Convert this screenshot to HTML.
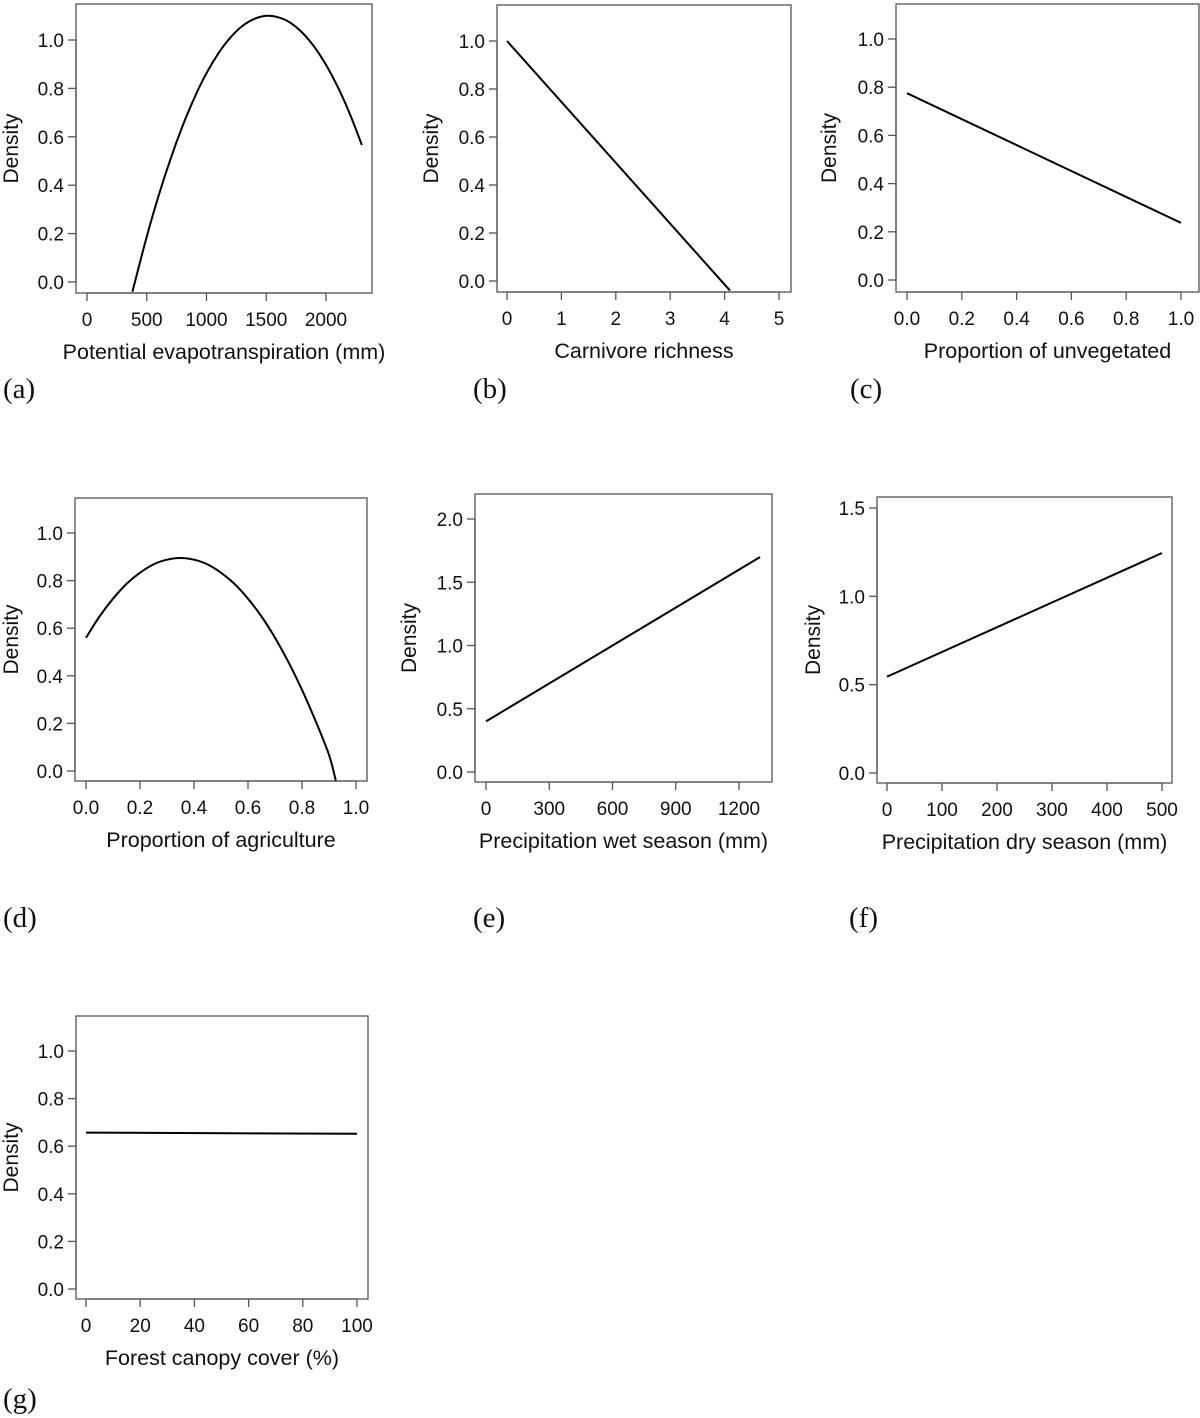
<!DOCTYPE html>
<html><head><meta charset="utf-8"><style>
html,body{margin:0;padding:0;background:#fff;}
svg{display:block;}
text{font-family:"Liberation Sans",sans-serif;fill:#111;}
.lt{font-family:"Liberation Serif",serif;font-size:29px;}
</style></head><body>
<svg id="fig" width="1200" height="1418" viewBox="0 0 1200 1418" xmlns="http://www.w3.org/2000/svg"></svg>
<script>
// ---- data ----
const aX = [380,500,600,700,800,900,1000,1100,1200,1300,1400,1500,1600,1700,1800,1900,2000,2100,2200,2300];
const aY = [-0.04,0.188,0.358,0.510,0.645,0.763,0.863,0.945,1.010,1.058,1.087,1.100,1.094,1.072,1.031,0.973,0.898,0.805,0.694,0.566];
const bX = [0,4.1];
const bY = [1.0,-0.04];
const cX = [0,1];
const cY = [0.775,0.237];
const dX = [0,0.05,0.1,0.15,0.2,0.25,0.3,0.35,0.4,0.45,0.5,0.55,0.6,0.65,0.7,0.75,0.8,0.85,0.9,0.925];
const dY = [0.56,0.649,0.724,0.786,0.833,0.868,0.888,0.895,0.888,0.868,0.833,0.786,0.724,0.649,0.56,0.457,0.341,0.211,0.068,-0.04];
const eX = [0,1300];
const eY = [0.40,1.70];
const fX = [0,500];
const fY = [0.545,1.245];
const gX = [0,100];
const gY = [0.657,0.652];

const aXTicks = [0,500,1000,1500,2000];
const bXTicks = [0,1,2,3,4,5];
const cXTicks = [0,0.2,0.4,0.6,0.8,1.0];
const dXTicks = [0,0.2,0.4,0.6,0.8,1.0];
const eXTicks = [0,300,600,900,1200];
const fXTicks = [0,100,200,300,400,500];
const gXTicks = [0,20,40,60,80,100];
const yTicks01 = [0,0.2,0.4,0.6,0.8,1.0];
const eYTicks = [0,0.5,1.0,1.5,2.0];
const fYTicks = [0,0.5,1.0,1.5];

const NS = "http://www.w3.org/2000/svg";
const svg = document.getElementById('fig');
function mk(tag, attrs, parent){
  const e = document.createElementNS(NS, tag);
  for (const k in attrs) e.setAttribute(k, attrs[k]);
  (parent||svg).appendChild(e);
  return e;
}
function fmt1(v){return v.toFixed(1);}
function smoothPath(p){
  if (p.length < 3) return 'M' + p.map(q => q[0].toFixed(1)+','+q[1].toFixed(1)).join(' L');
  let d = 'M' + p[0][0].toFixed(1) + ',' + p[0][1].toFixed(1);
  for (let i = 0; i < p.length - 1; i++){
    const p0 = p[i-1] || p[i], p1 = p[i], p2 = p[i+1], p3 = p[i+2] || p2;
    const c1x = p1[0] + (p2[0]-p0[0])/6, c1y = p1[1] + (p2[1]-p0[1])/6;
    const c2x = p2[0] - (p3[0]-p1[0])/6, c2y = p2[1] - (p3[1]-p1[1])/6;
    d += ` C${c1x.toFixed(1)},${c1y.toFixed(1)} ${c2x.toFixed(1)},${c2y.toFixed(1)} ${p2[0].toFixed(1)},${p2[1].toFixed(1)}`;
  }
  return d;
}

function panel(cfg){
  const g = mk('g', {});
  
  
  const sx = v => cfg.px0 + (v - cfg.x0) * (cfg.px1 - cfg.px0) / (cfg.x1 - cfg.x0);
  const sy = v => cfg.py0 + (v - cfg.y0) * (cfg.py1 - cfg.py0) / (cfg.y1 - cfg.y0);
  const box = mk('rect', {x:cfg.L, y:cfg.T, width:cfg.R-cfg.L, height:cfg.B-cfg.T, fill:'none', stroke:'#555', 'stroke-width':1.3}, g);
  
  
  const xa = mk('g', {}, g);
  
  
  mk('line', {x1:sx(cfg.xt[0]), x2:sx(cfg.xt[cfg.xt.length-1]), y1:cfg.B, y2:cfg.B, stroke:'#555','stroke-width':1.3}, xa);
  cfg.xt.forEach(v => {
    mk('line', {x1:sx(v), x2:sx(v), y1:cfg.B, y2:cfg.B+8, stroke:'#555','stroke-width':1.3}, xa);
    const t = mk('text', {x:sx(v), y:cfg.B+33, 'text-anchor':'middle', 'font-size':19}, xa);
    t.textContent = cfg.xf ? cfg.xf(v) : String(v);
    
    
  });
  const ya = mk('g', {}, g);
  
  
  mk('line', {x1:cfg.L, x2:cfg.L, y1:sy(cfg.yt[0]), y2:sy(cfg.yt[cfg.yt.length-1]), stroke:'#555','stroke-width':1.3}, ya);
  cfg.yt.forEach(v => {
    mk('line', {x1:cfg.L-8, x2:cfg.L, y1:sy(v), y2:sy(v), stroke:'#555','stroke-width':1.3}, ya);
    const t = mk('text', {x:cfg.L-12, y:sy(v)+7, 'text-anchor':'end', 'font-size':19}, ya);
    t.textContent = fmt1(v);
    
    
  });
  const cy = (cfg.T + cfg.B) / 2;
  const yl = mk('text', {x:0, y:0, 'text-anchor':'middle', 'font-size':21, transform:`translate(${cfg.yl},${cy}) rotate(-90)`}, g);
  yl.textContent = 'Density';
  
  
  const xl = mk('text', {x:(cfg.L+cfg.R)/2, y:cfg.B+66, 'text-anchor':'middle', 'font-size':21.5}, g);
  xl.textContent = cfg.xlab;
  
  
  const lt = mk('text', {x:cfg.lx, y:cfg.ly, class:'lt'}, g);
  lt.textContent = '(' + cfg.id + ')';
  
  
  const pts = cfg.xs.map((v,i) => [sx(v), sy(cfg.ys[i])]);
  const pl = mk('path', {d:smoothPath(pts), fill:'none', stroke:'#000', 'stroke-width':2, 'stroke-linejoin':'round'}, g);
  
  
}

panel({id:'a', L:76,R:372,T:4,B:293, x0:0,x1:2000,px0:87,px1:326, y0:0,y1:1,py0:282,py1:40,
  xt:aXTicks, yt:yTicks01, xs:aX, ys:aY, xlab:'Potential evapotranspiration (mm)', yl:18, lx:3, ly:398});
panel({id:'b', L:497,R:791,T:5,B:292, x0:0,x1:5,px0:507,px1:779, y0:0,y1:1,py0:281,py1:41,
  xt:bXTicks, yt:yTicks01, xs:bX, ys:bY, xlab:'Carnivore richness', yl:438, lx:473, ly:398});
panel({id:'c', L:896,R:1199,T:4,B:292, x0:0,x1:1,px0:907,px1:1181, y0:0,y1:1,py0:280,py1:39,
  xt:cXTicks, yt:yTicks01, xs:cX, ys:cY, xf:fmt1, xlab:'Proportion of unvegetated', yl:836, lx:850, ly:398});
panel({id:'d', L:75,R:367,T:498,B:781, x0:0,x1:1,px0:86,px1:356, y0:0,y1:1,py0:771,py1:533,
  xt:dXTicks, yt:yTicks01, xs:dX, ys:dY, xf:fmt1, xlab:'Proportion of agriculture', yl:18, lx:3, ly:927});
panel({id:'e', L:475,R:772,T:494,B:782, x0:0,x1:1200,px0:486,px1:739, y0:0,y1:2,py0:772,py1:519,
  xt:eXTicks, yt:eYTicks, xs:eX, ys:eY, xlab:'Precipitation wet season (mm)', yl:416, lx:473, ly:927});
panel({id:'f', L:877,R:1172,T:497,B:783, x0:0,x1:500,px0:887,px1:1162, y0:0,y1:1.5,py0:773,py1:508,
  xt:fXTicks, yt:fYTicks, xs:fX, ys:fY, xlab:'Precipitation dry season (mm)', yl:820, lx:849, ly:927});
panel({id:'g', L:76,R:368,T:1016,B:1299, x0:0,x1:100,px0:86,px1:357, y0:0,y1:1,py0:1289,py1:1051,
  xt:gXTicks, yt:yTicks01, xs:gX, ys:gY, xlab:'Forest canopy cover (%)', yl:18, lx:3, ly:1408});
</script>
</body></html>
